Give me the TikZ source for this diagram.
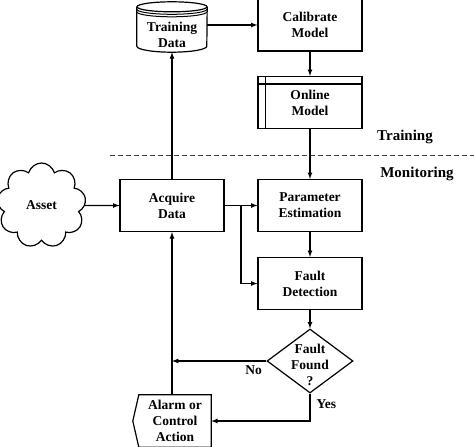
\documentclass[tikz,border=0pt]{standalone}
\usepackage{fontspec}
\setmainfont{Liberation Serif}
\usetikzlibrary{shapes.geometric}
\usetikzlibrary{shapes.symbols}
\usetikzlibrary{positioning}
\usetikzlibrary{arrows.meta}
\tikzset{
    box/.style = {rectangle, line width=1.2pt, draw=black, minimum width=104pt, minimum height=52pt, align=center, font=\fontsize{13.5}{16}\selectfont\bfseries},
    ghost/.style = {rectangle, minimum width=#1, align=center, inner sep=0pt, font=\fontsize{13.5}{16}\selectfont\bfseries},
    asset/.style = {cloud, cloud puffs=9, aspect=1.05, line width=1.2pt, draw=black, minimum width=89pt, minimum height=85pt, font=\fontsize{13.5}{16}\selectfont\bfseries},
    decide/.style = {diamond, line width=1.2pt, draw=black, minimum width=86pt, minimum height=64pt, inner sep=0pt},
    outline/.style = {line width=1.2pt, draw=black},
    edgen/.style = {-latex, line width=1.2pt},
    sect/.style = {font=\fontsize{15}{18}\selectfont\bfseries},
    lbl/.style = {font=\fontsize{13.5}{16}\selectfont\bfseries}
}

\begin{document}
\begin{tikzpicture}[x=1pt,y=-1pt]
\useasboundingbox (0,0) rectangle (474,447);
\node[ghost=70pt, minimum height=34pt] at (172,35) (train) {Training\\Data};
\node[box] at (310,25) (calib) {Calibrate\\Model};
\node[box] at (310,102.5) (online) {Online\\Model};
\node[asset] at (41.5,205.5) (plant) {Asset};
\node[box] at (172,205.5) (acquire) {Acquire\\Data};
\node[box] at (310,205.5) (param) {Parameter\\Estimation};
\node[box] at (310,283.5) (fault) {Fault\\Detection};
\node[decide, label={[lbl, align=center, yshift=-3.5pt]center:Fault\\Found\\?}] at (310,361) (found) {};
\node[ghost=72pt, minimum height=52pt] at (175,421) (alarm) {Alarm or\\Control\\Action};
\node[sect] at (405,137) (trainlbl) {Training};
\node[sect] at (417,174) (monlbl) {Monitoring};
\coordinate (dashL) at (110,155);
\coordinate (dashR) at (474,155);
\coordinate (split) at (241,205.5);
%
% database and special boxes
\draw[outline] ([yshift=11pt]train.north west) -- ([yshift=6pt]train.south west)
    arc[start angle=180, end angle=360, x radius=35pt, y radius=6pt] -- ([yshift=11pt]train.north east);
\draw[outline] ([yshift=11pt]train.north) ellipse [x radius=35pt, y radius=5pt];
\draw[line width=1pt] ([yshift=8.5pt]train.north west) arc[start angle=180, end angle=360, x radius=35pt, y radius=5pt];
\draw[line width=1pt] ([yshift=6pt]train.north west) arc[start angle=180, end angle=360, x radius=35pt, y radius=5pt];
\draw[outline] ([xshift=8pt]online.north west) -- ([xshift=8pt]online.south west);
\draw[outline] ([yshift=-8pt]online.north west) -- ([yshift=-8pt]online.north east);
\draw[outline] (alarm.north west) -- (alarm.north east) -- (alarm.south east) -- (alarm.south west) -- ([xshift=-6pt]alarm.west) -- cycle;
\draw[line width=1pt, dash pattern=on 5pt off 3pt, black!75] (dashL) -- (dashR);
%
\draw[edgen] (train.east |- calib) -- (calib.west);
\draw[edgen] (calib) -- (online);
\draw[edgen] (online) -- (param);
\draw[edgen] (plant.east) -- (acquire.west);
\draw[edgen] (acquire) -- (train.south);
\draw[edgen] (acquire) -- (param);
\draw[edgen] (split) |- (fault.west);
\draw[edgen] (param) -- (fault);
\draw[edgen] (fault) -- (found);
\draw[edgen] (found.west) -- node[lbl, pos=0, below left, inner sep=4pt] {No} (acquire.south |- found.west);
\draw[edgen] (alarm.north -| acquire) -- (acquire.south);
\draw[edgen] (found.south) |- node[lbl, pos=0.2, right, inner sep=6pt] {Yes} (alarm.east);
\end{tikzpicture}
\end{document}
